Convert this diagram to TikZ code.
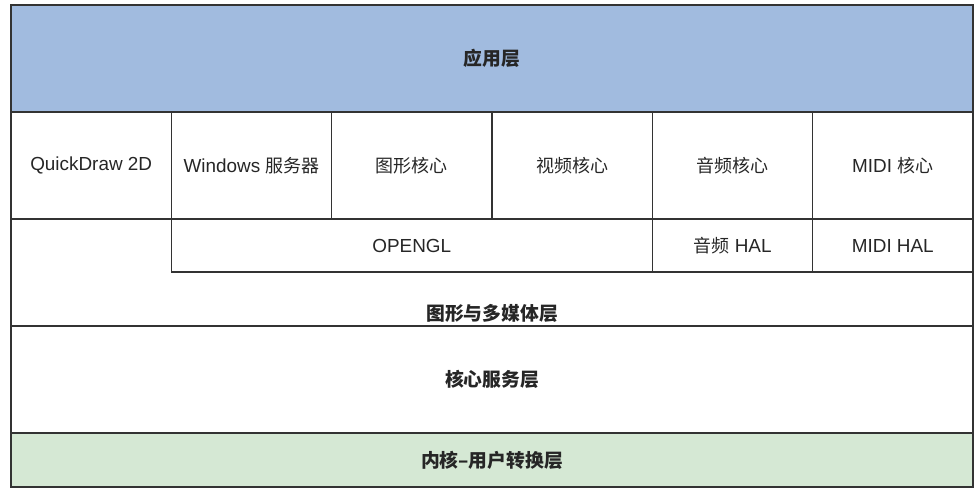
\documentclass[tikz,border=0pt]{standalone}
\usepackage{fontspec}
\setmainfont{Liberation Sans}[Scale=1.05]
\newfontfamily\cjk{Noto Sans CJK SC}
\definecolor{linec}{RGB}{51,51,51}
\definecolor{appblue}{RGB}{161,187,223}
\definecolor{kgreen}{RGB}{213,232,212}
\tikzset{
  cell/.style={draw=linec, line width=1.3pt, inner sep=0pt, outer sep=0pt, rectangle,
    font=\fontsize{18}{22}\selectfont, text=black!85},
  layer/.style={cell, font=\fontsize{18.8}{22}\selectfont\cjk\bfseries},
  lbl/.style={inner sep=0pt, font=\fontsize{18.8}{22}\selectfont\cjk\bfseries, text=black!85}
}
\begin{document}
\begin{tikzpicture}[x=1pt,y=-1pt]
\useasboundingbox (0,0) rectangle (979,488);
% layers
\node[layer, fill=appblue, minimum width=962pt, minimum height=107pt] (app) at (492,58.5) {应用层};
\node[cell, minimum width=962pt, minimum height=214pt] (gfx) at (492,219) {};
\node[lbl] (gfxlbl) at (492,313) {图形与多媒体层};
\node[layer, minimum width=962pt, minimum height=107pt] (core) at (492,379.5) {核心服务层};
\node[layer, fill=kgreen, minimum width=962pt, minimum height=54pt] (kern) at (492,460) {内核–用户转换层};
% row 1
\node[cell, minimum width=160.3pt, minimum height=107pt] (qd) at (91.2,165.5) {QuickDraw 2D};
\node[cell, minimum width=160.3pt, minimum height=107pt] (win) at (251.5,165.5) {Windows {\cjk 服务器}};
\node[cell, minimum width=160.3pt, minimum height=107pt] (gcore) at (411.8,165.5) {\cjk 图形核心};
\node[cell, minimum width=160.3pt, minimum height=107pt] (vcore) at (572.2,165.5) {\cjk 视频核心};
\node[cell, minimum width=160.3pt, minimum height=107pt] (acore) at (732.5,165.5) {\cjk 音频核心};
\node[cell, minimum width=160.3pt, minimum height=107pt] (mcore) at (892.8,165.5) {MIDI {\cjk 核心}};
% row 2
\node[cell, minimum width=481pt, minimum height=53pt] (ogl) at (411.8,245.5) {OPENGL};
\node[cell, minimum width=160.3pt, minimum height=53pt] (ahal) at (732.5,245.5) {{\cjk 音频} HAL};
\node[cell, minimum width=160.3pt, minimum height=53pt] (mhal) at (892.8,245.5) {MIDI HAL};
\end{tikzpicture}
\end{document}
